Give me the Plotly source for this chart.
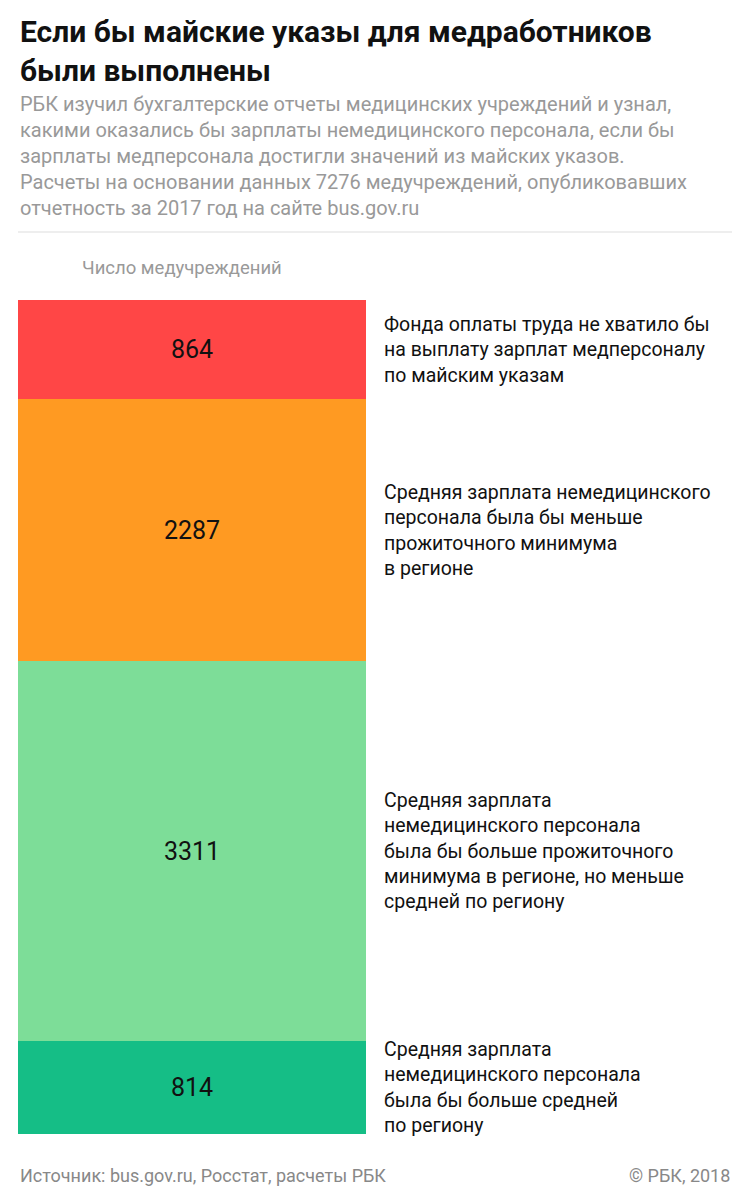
import plotly.graph_objects as go

categories = ["Фонда оплаты труда не хватило бы<br>на выплату зарплат медперсоналу<br>по майским указам",
              "Средняя зарплата немедицинского<br>персонала была бы меньше<br>прожиточного минимума<br>в регионе",
              "Средняя зарплата<br>немедицинского персонала<br>была бы больше прожиточного<br>минимума в регионе, но меньше<br>средней по региону",
              "Средняя зарплата<br>немедицинского персонала<br>была бы больше средней<br>по региону"]
values = [864, 2287, 3311, 814]
colors = ["#FF4646", "#FF9A22", "#7DDD98", "#15BE86"]

W, H = 750, 1200
OX, OY = 8, 8
top, bot = 300 - OY, 1134 - OY
fig = go.Figure()
for c, v, col in zip(categories, values, colors):
    fig.add_trace(go.Bar(x=[0], y=[v], marker=dict(color=col, line=dict(width=0)), width=1,
                         text=[str(v)], textposition="inside", insidetextanchor="middle",
                         textfont=dict(size=25, color="#111", family="Roboto"),
                         hoverinfo="skip", showlegend=False))
total = sum(values)
fig.update_layout(barmode="stack", width=W, height=H, margin=dict(l=0, r=0, t=0, b=0),
                  paper_bgcolor="white", plot_bgcolor="white", bargap=0,
                  font=dict(family="Roboto", color="#111"),
                  xaxis=dict(domain=[(18-OX)/W, (366-OX)/W], range=[-0.5, 0.5], visible=False, fixedrange=True),
                  yaxis=dict(domain=[1-bot/H, 1-top/H], range=[total, 0], visible=False, fixedrange=True))

def px(p): return (p - OX) / W
def py(p): return 1 - (p - OY) / H

ann = []
cum = 0
for c, v in zip(categories, values):
    ann.append(dict(x=px(382), xref="paper", y=cum + v/2, yref="y", text=c, showarrow=False,
                    xanchor="left", yanchor="middle", align="left",
                    font=dict(size=19.5, color="#111")))
    cum += v

ann.append(dict(x=px(18), y=py(12), xref="paper", yref="paper", xanchor="left", yanchor="top", align="left",
                showarrow=False, text="<b>Если бы майские указы для медработников<br>были выполнены</b>",
                font=dict(size=30, color="#111")))
ann.append(dict(x=px(18), y=py(90), xref="paper", yref="paper", xanchor="left", yanchor="top", align="left",
                showarrow=False,
                text="РБК изучил бухгалтерские отчеты медицинских учреждений и узнал,<br>какими оказались бы зарплаты немедицинского персонала, если бы<br>зарплаты медперсонала достигли значений из майских указов.<br>Расчеты на основании данных 7276 медучреждений, опубликовавших<br>отчетность за 2017 год на сайте bus.gov.ru",
                font=dict(size=20, color="#999")))
ann.append(dict(x=px(80), y=py(268), xref="paper", yref="paper", xanchor="left", yanchor="middle",
                showarrow=False, text="Число медучреждений", font=dict(size=18.5, color="#999")))
ann.append(dict(x=px(18), y=py(1175), xref="paper", yref="paper", xanchor="left", yanchor="middle",
                showarrow=False, text="Источник: bus.gov.ru, Росстат, расчеты РБК", font=dict(size=18, color="#888")))
ann.append(dict(x=px(732), y=py(1175), xref="paper", yref="paper", xanchor="right", yanchor="middle",
                showarrow=False, text="© РБК, 2018", font=dict(size=18, color="#888")))
fig.update_layout(annotations=ann,
                  shapes=[dict(type="line", xref="paper", yref="paper", x0=px(18), x1=px(732), y0=py(232), y1=py(232),
                               line=dict(color="#ddd", width=1))])
fig.write_html("out.html")
